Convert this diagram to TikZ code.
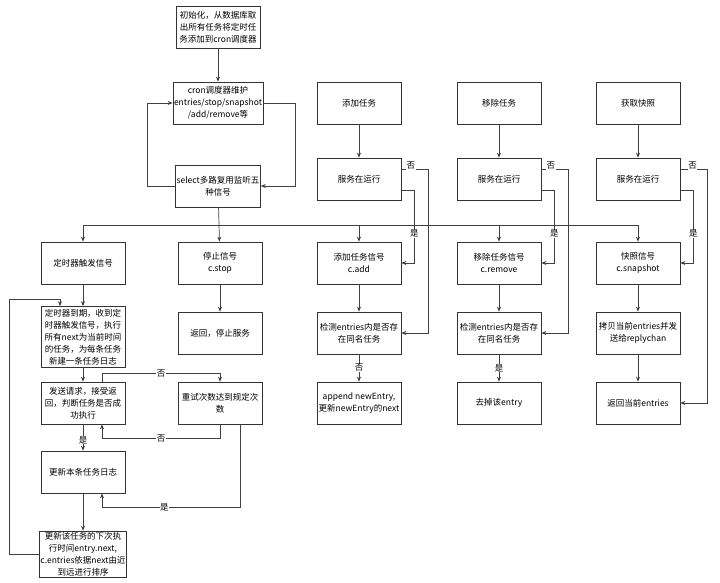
\documentclass[tikz,border=0pt]{standalone}
\usepackage{fontspec}
\setmainfont{Noto Sans CJK SC}
\usetikzlibrary{arrows.meta,calc}
\tikzset{
  box/.style={draw=black!80,line width=0.7pt,minimum width=84pt,minimum height=42pt,align=center,inner sep=1pt},
  line/.style={draw=black!75,line width=0.7pt},
  arr/.style={line,-{Stealth[length=5pt,width=4pt]}},
  lbl/.style={fill=white,inner sep=0.5pt,font=\fontsize{8.5}{10}\selectfont},
}
\begin{document}
\begin{tikzpicture}[x=1pt,y=-1pt,font=\fontsize{8.5}{12}\selectfont]
\useasboundingbox (0,0) rectangle (720,583);
% main column
\node[box] (init) at (218,27) {初始化，从数据库取\\出所有任务将定时任\\务添加到cron调度器};
\node[box] (cron) at (218,103) {cron调度器维护\\entries/stop/snapshot\\/add/remove等};
\node[box] (sel) at (218,186) {select多路复用监听五\\种信号};
% request columns
\foreach \X/\T in {359/添加任务, 499/移除任务, 638/获取快照}
  {\node[box] (req-\X) at (\X,103) {\T};
   \node[box] (run-\X) at (\X,179) {服务在运行};
   \draw[arr] (req-\X) -- (run-\X);}
% signals
\node[box] (timer) at (83,263) {定时器触发信号};
\node[box] (stop) at (220,263) {停止信号\\c.stop};
\node[box] (add) at (359,263) {添加任务信号\\c.add};
\node[box] (rem) at (499,263) {移除任务信号\\c.remove};
\node[box] (snap) at (638,263) {快照信号\\c.snapshot};
% row 4
\node[box,minimum height=61pt] (fire) at (83,337) {定时器到期，收到定\\时器触发信号，执行\\所有next为当前时间\\的任务，为每条任务\\新建一条任务日志};
\node[box] (ret) at (220,333) {返回，停止服务};
\node[box] (chka) at (359,333) {检测entries内是否存\\在同名任务};
\node[box] (chkr) at (499,333) {检测entries内是否存\\在同名任务};
\node[box] (copy) at (638,333) {拷贝当前entries并发\\送给replychan};
% row 5
\node[box] (send) at (83,403) {发送请求，接受返\\回，判断任务是否成\\功执行};
\node[box] (retry) at (220,403) {重试次数达到规定次\\数};
\node[box] (app) at (359,403) {append newEntry,\\更新newEntry的next};
\node[box] (del) at (499,403) {去掉该entry};
\node[box] (back) at (638,403) {返回当前entries};
\node[box] (log) at (83,472) {更新本条任务日志};
\node[box] (next) at (83,554) {更新该任务的下次执\\行时间entry.next,\\c.entries依据next由近\\到远进行排序};
% main flow
\draw[arr] (init) -- (cron);
\draw[arr] (sel.west) -- ++(-28,0) |- (cron.west);
\draw[arr] (cron.east) -- ++(32,0) |- (sel.east);
\draw[arr] (sel) -- (stop);
\coordinate (bus) at (218,225);
\draw[line] (83,225) -- (638,225);
\foreach \N in {timer,add,rem,snap}
  \draw[arr] (\N.north |- bus) -- (\N.north);
% running checks
\foreach \X/\S/\F in {359/add/chka, 499/rem/chkr}
  {\draw[arr] ($(run-\X.east)+(0,-10)$) -- node[lbl,pos=0.35,above=-1pt]{否} ++(27,0) |- (\F.east);
   \draw[arr] ($(run-\X.east)+(0,11)$) -- ++(13,0) |- node[lbl,pos=0.3]{是} (\S.east);}
\draw[arr] ($(run-638.east)+(0,-10)$) -- node[lbl,pos=0.45,above=-1pt]{否} ++(27,0) |- (back.east);
\draw[arr] ($(run-638.east)+(0,11)$) -- ++(13,0) |- node[lbl,pos=0.3]{是} (snap.east);
\draw[arr] (stop) -- (ret);
\draw[arr] (add) -- (chka);
\draw[arr] (rem) -- (chkr);
\draw[arr] (snap) -- (copy);
\draw[arr] (chka) -- node[lbl]{否} (app);
\draw[arr] (chkr) -- node[lbl]{是} (del);
\draw[arr] (copy) -- (back);
% timer flow
\draw[arr] (timer) -- (fire);
\draw[arr] (fire) -- (send);
\draw[arr] (send.north -| 102,0) -- ++(0,-8) -| node[lbl,pos=0.25]{否} (retry.north);
\draw[arr] (retry.south) -- ++(0,14) -| node[lbl,pos=0.25]{否} (send.south -| 102,0);
\draw[arr] (send) -- node[lbl,pos=0.6]{是} (log);
\draw[arr] (retry.south -| 240,0) |- ++(-60,83) -| node[lbl,pos=0.1]{是} (log.south -| 102,0);
\draw[arr] (log) -- (next);
\draw[arr] (next.west) -- ++(-30,0) |- (60,299) -- (fire.north -| 60,0);
\end{tikzpicture}
\end{document}
